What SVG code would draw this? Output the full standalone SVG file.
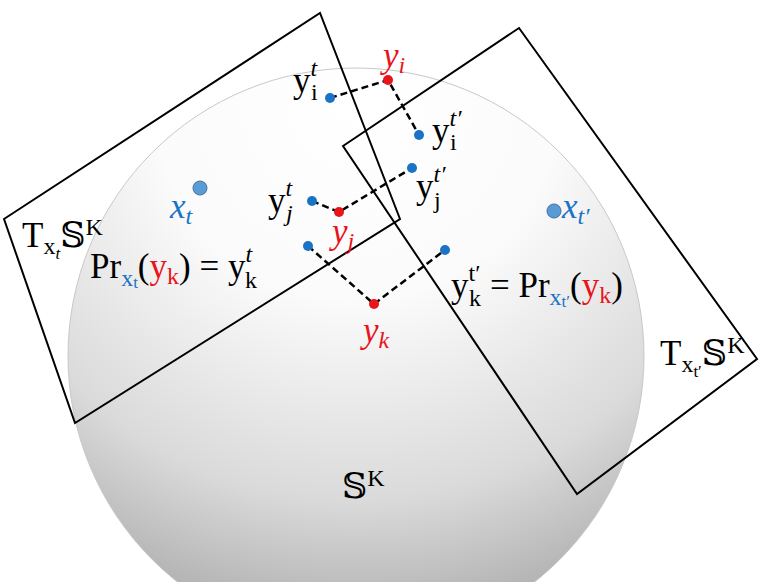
<svg xmlns="http://www.w3.org/2000/svg" width="759" height="582" viewBox="0 0 759 582">
<defs>
<radialGradient id="g" cx="0.5" cy="0.05" r="1.0" fx="0.5" fy="0.05">
<stop offset="0" stop-color="#ffffff"/><stop offset="0.35" stop-color="#fbfbfb"/><stop offset="0.7" stop-color="#dadada"/><stop offset="1" stop-color="#a0a0a0"/>
</radialGradient>
<style>
text{font-family:"Liberation Serif","DejaVu Serif",serif;font-size:35px;fill:#000}
.i{font-style:italic}.r{fill:#e8141b}.b{fill:#1a73c4}.s{font-size:24px}.ss{font-size:17px}
.plane{fill:none;stroke:#000;stroke-width:2}
.d{fill:none;stroke:#000;stroke-width:2.5;stroke-dasharray:7 4}
</style>
</defs>
<circle cx="356" cy="356" r="288" fill="url(#g)" stroke="#c8c8c8" stroke-width="1"/>
<g id="plane-t"><polygon class="plane" points="4,219 320,13 400,219 75,423"/></g>
<g id="plane-t2"><polygon class="plane" points="343,146 519,28 757,359 577,494"/></g>
<g id="connectors">
<polyline class="d" points="330,98 388,80 419,135"/>
<polyline class="d" points="312,201 339,212 412,168"/>
<polyline class="d" points="308,246 374,304 445,250"/>
</g>
<g id="points">
<circle cx="388" cy="80" r="5" fill="#e8141b"/>
<circle cx="339" cy="212" r="5" fill="#e8141b"/>
<circle cx="374" cy="304" r="5" fill="#e8141b"/>
<circle cx="330" cy="98" r="5" fill="#1a73c4"/>
<circle cx="419" cy="135" r="5" fill="#1a73c4"/>
<circle cx="412" cy="168" r="5" fill="#1a73c4"/>
<circle cx="312" cy="201" r="5" fill="#1a73c4"/>
<circle cx="308" cy="246" r="5" fill="#1a73c4"/>
<circle cx="445" cy="250" r="5" fill="#1a73c4"/>
<circle cx="200" cy="188" r="7" fill="#5b9bd5" stroke="#41719c" stroke-width="1"/>
<circle cx="554" cy="211" r="7" fill="#5b9bd5" stroke="#41719c" stroke-width="1"/>
</g>
<g id="labels">
<text x="293" y="92">y<tspan class="s i" dy="-16">t</tspan></text>
<text class="s" x="311" y="100">i</text>
<text class="i r" x="383" y="67">y<tspan class="s" dy="6">i</tspan></text>
<text x="432" y="142">y<tspan class="s i" dy="-16">t′</tspan></text>
<text class="s" x="450" y="150">i</text>
<text x="268" y="212">y<tspan class="s i" dy="-16">t</tspan></text>
<text class="s i" x="286" y="221">j</text>
<text x="416" y="198">y<tspan class="s i" dy="-16">t′</tspan></text>
<text class="s" x="434" y="208">j</text>
<text class="i r" x="332" y="243">y<tspan class="s" dy="6">j</tspan></text>
<text class="i r" x="363" y="342">y<tspan class="s" dy="6">k</tspan></text>
<text class="i b" x="170" y="218">x<tspan class="s" dy="6">t</tspan></text>
<text class="i b" x="562" y="218">x<tspan class="s" dy="6">t′</tspan></text>
<text x="22" y="247">T<tspan class="s" dy="7">x</tspan><tspan class="ss i" dy="5">t</tspan><tspan dy="-12">𝕊</tspan><tspan class="s" dy="-12">K</tspan></text>
<text x="90" y="278">Pr<tspan class="s b" dy="8">x</tspan><tspan class="ss b" dy="2">t</tspan><tspan dy="-10">(</tspan><tspan class="r">y</tspan><tspan class="s r" dy="6">k</tspan><tspan dy="-6">) = y</tspan><tspan class="s i" dy="-16">t</tspan></text>
<text class="s" x="245" y="288">k</text>
<text x="451" y="297">y<tspan class="s" dy="-16">t′</tspan></text>
<text class="s" x="469" y="306">k</text>
<text x="490" y="297">= Pr<tspan class="s b" dy="8">x</tspan><tspan class="ss b" dy="2">t′</tspan><tspan dy="-10">(</tspan><tspan class="r">y</tspan><tspan class="s r" dy="6">k</tspan><tspan dy="-6">)</tspan></text>
<text x="660" y="365">T<tspan class="s" dy="7">x</tspan><tspan class="ss" dy="5">t′</tspan><tspan dy="-12">𝕊</tspan><tspan class="s" dy="-12">K</tspan></text>
<text x="342" y="498">𝕊<tspan class="s" dy="-12">K</tspan></text>
</g>
</svg>
